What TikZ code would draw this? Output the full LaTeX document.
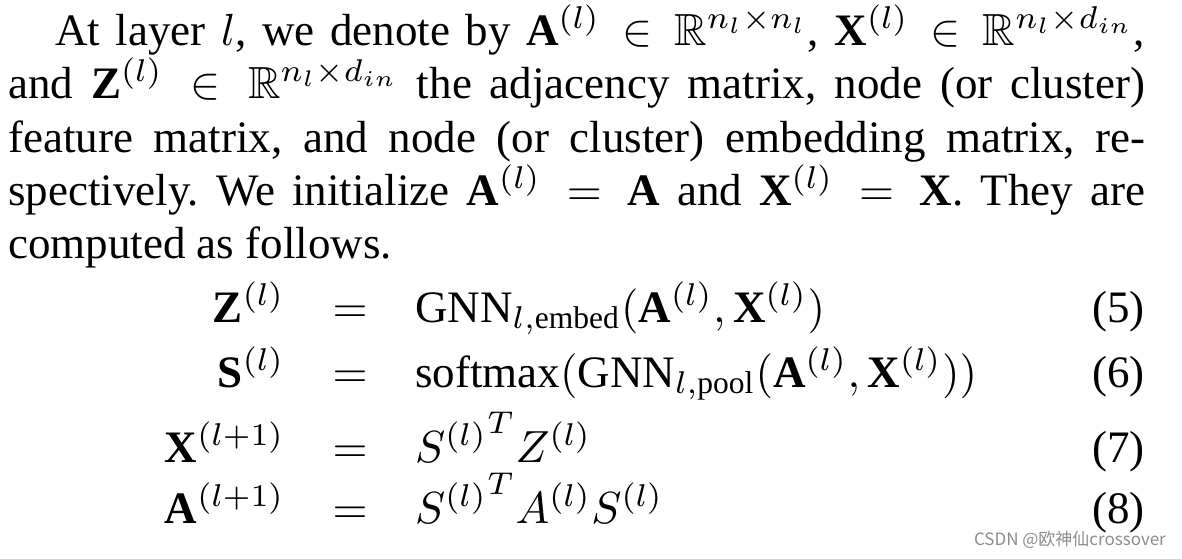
\documentclass[tikz,border=0pt]{standalone}
\usepackage{amsmath,amssymb,graphicx}
\usepackage{fontspec}
\setmainfont{Liberation Serif}
\newfontfamily\cjk{Noto Sans CJK SC}
\frenchspacing
\newcommand{\bigtxt}[1]{\scalebox{4.5}{\fontsize{10}{12}\selectfont #1}}
\begin{document}
\begin{tikzpicture}[x=1pt,y=1pt,
  txt/.style={anchor=base west,inner sep=0pt},
  eqn/.style={anchor=base,inner sep=0pt}]
\useasboundingbox (0,0) rectangle (1182,-558);
\node[txt] (l1) at (55,-45) {\bigtxt{\makebox[242.2pt][s]{At layer $l$, we denote by $\mathbf{A}^{(l)}\in\mathbb{R}^{n_l\times n_l}$, $\mathbf{X}^{(l)}\in\mathbb{R}^{n_l\times d_{in}}$,}}};
\node[txt] (l2) at (8,-98) {\bigtxt{\makebox[252.7pt][s]{and $\mathbf{Z}^{(l)}\in\mathbb{R}^{n_l\times d_{in}}$ the adjacency matrix, node (or cluster)}}};
\node[txt] (l3) at (8,-152) {\bigtxt{\makebox[252.7pt][s]{feature matrix, and node (or cluster) embedding matrix, re-}}};
\node[txt] (l4) at (8,-205) {\bigtxt{\makebox[252.7pt][s]{spectively. We initialize $\mathbf{A}^{(l)}=\mathbf{A}$ and $\mathbf{X}^{(l)}=\mathbf{X}$. They are}}};
\node[txt] (l5) at (8,-258) {\bigtxt{computed as follows.}};
% equations
\node[eqn,anchor=base east] (e1l) at (285,-322) {\bigtxt{$\mathbf{Z}^{(l)}$}};
\node[eqn] (e1m) at (350,-322) {\bigtxt{$=$}};
\node[eqn,anchor=base west] (e1r) at (415,-322) {\bigtxt{$\mathrm{GNN}_{l,\mathrm{embed}}(\mathbf{A}^{(l)},\mathbf{X}^{(l)})$}};
\node[eqn,anchor=base east] (e1n) at (1145,-322) {\bigtxt{(5)}};
\node[eqn,anchor=base east] (e2l) at (285,-387) {\bigtxt{$\mathbf{S}^{(l)}$}};
\node[eqn] (e2m) at (350,-387) {\bigtxt{$=$}};
\node[eqn,anchor=base west] (e2r) at (415,-387) {\bigtxt{$\mathrm{softmax}(\mathrm{GNN}_{l,\mathrm{pool}}(\mathbf{A}^{(l)},\mathbf{X}^{(l)}))$}};
\node[eqn,anchor=base east] (e2n) at (1145,-387) {\bigtxt{(6)}};
\node[eqn,anchor=base east] (e3l) at (285,-462) {\bigtxt{$\mathbf{X}^{(l+1)}$}};
\node[eqn] (e3m) at (350,-462) {\bigtxt{$=$}};
\node[eqn,anchor=base west] (e3r) at (415,-462) {\bigtxt{${S^{(l)}}^{T}Z^{(l)}$}};
\node[eqn,anchor=base east] (e3n) at (1145,-462) {\bigtxt{(7)}};
\node[eqn,anchor=base east] (e4l) at (285,-523) {\bigtxt{$\mathbf{A}^{(l+1)}$}};
\node[eqn] (e4m) at (350,-523) {\bigtxt{$=$}};
\node[eqn,anchor=base west] (e4r) at (415,-523) {\bigtxt{${S^{(l)}}^{T}A^{(l)}S^{(l)}$}};
\node[eqn,anchor=base east] (e4n) at (1145,-523) {\bigtxt{(8)}};
\node[anchor=base east,inner sep=0pt,text=black!45,font=\cjk\fontsize{17}{20}\selectfont] (wm) at (1166,-545) {CSDN @欧神仙crossover};
\end{tikzpicture}
\end{document}
